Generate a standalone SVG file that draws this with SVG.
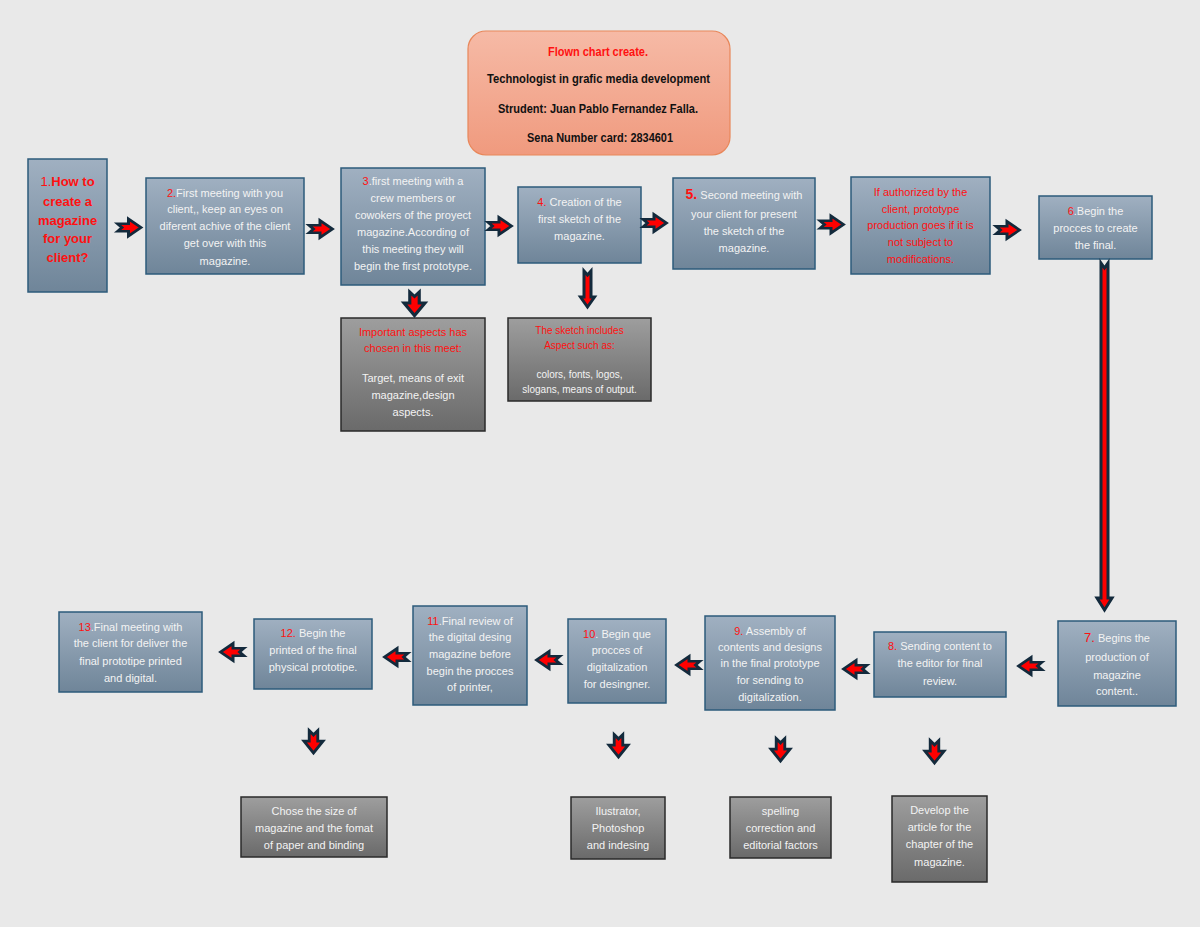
<svg xmlns="http://www.w3.org/2000/svg" xmlns:xlink="http://www.w3.org/1999/xlink" width="1200" height="927" viewBox="0 0 1200 927">
<defs>
<linearGradient id="gBlue" x1="0" y1="0" x2="0" y2="1"><stop offset="0" stop-color="#a0b0c1"/><stop offset="1" stop-color="#6f8599"/></linearGradient>
<linearGradient id="gGray" x1="0" y1="0" x2="0" y2="1"><stop offset="0" stop-color="#9e9e9e"/><stop offset="1" stop-color="#6a6a6a"/></linearGradient>
<linearGradient id="gSal" x1="0" y1="0" x2="0" y2="1"><stop offset="0" stop-color="#f6baa6"/><stop offset="1" stop-color="#f09a7e"/></linearGradient>
<polygon id="ad" points="-4.5,-12 0,-7.5 4.5,-12 4.5,-1 10,-1 0,11.5 -10,-1 -4.5,-1"/>
<style>
.bn{fill:url(#gBlue);stroke:#2d5b7b;stroke-width:1.5}
.gn{fill:url(#gGray);stroke:#2a2a2a;stroke-width:1.5}
.t{font-family:"Liberation Sans",Arial,sans-serif;font-size:11px;fill:#f3f3f3;text-anchor:middle}
.s{font-size:10px}
.r{fill:#ff1111}
.b1{font-family:"Liberation Sans",Arial,sans-serif;font-size:13px;font-weight:bold;fill:#ff1111;text-anchor:middle}
.tt{font-family:"Liberation Sans",Arial,sans-serif;font-size:12px;font-weight:bold;fill:#111;text-anchor:middle}
.arr{fill:#ff0000;stroke:#132a3c;stroke-width:3;stroke-linejoin:miter}
</style>
</defs>
<rect width="1200" height="927" fill="#e9e9e9"/>

<g id="title">
<rect x="468" y="31" width="262" height="124" rx="18" fill="url(#gSal)" stroke="#e8875a" stroke-width="1.2"/>
<text class="tt" x="598" y="56" style="fill:#ff1111" textLength="100" lengthAdjust="spacingAndGlyphs">Flown chart create.</text>
<text class="tt" x="598.5" y="83" textLength="223" lengthAdjust="spacingAndGlyphs">Technologist in grafic media development</text>
<text class="tt" x="598" y="113" textLength="200" lengthAdjust="spacingAndGlyphs">Strudent: Juan Pablo Fernandez Falla.</text>
<text class="tt" x="600" y="142" textLength="146" lengthAdjust="spacingAndGlyphs">Sena Number card: 2834601</text>
</g>

<g id="n1">
<rect class="bn" x="28" y="159" width="79" height="133"/>
<text class="b1" x="67.5" y="186"><tspan font-weight="normal">1.</tspan>How to</text>
<text class="b1" x="67.5" y="206">create a</text>
<text class="b1" x="67.5" y="225">magazine</text>
<text class="b1" x="67.5" y="243">for your</text>
<text class="b1" x="67.5" y="262">client?</text>
</g>

<g id="n2">
<rect class="bn" x="146" y="178" width="158" height="96"/>
<text class="t" x="225" y="197"><tspan class="r">2.</tspan>First meeting with you</text>
<text class="t" x="225" y="213">client,, keep an eyes on</text>
<text class="t" x="225" y="230">diferent achive of the client</text>
<text class="t" x="225" y="247">get over with this</text>
<text class="t" x="225" y="265">magazine.</text>
</g>

<g id="n3">
<rect class="bn" x="341" y="168" width="144" height="117"/>
<text class="t" x="413" y="185"><tspan class="r">3</tspan>.first meeting with a</text>
<text class="t" x="413" y="202">crew members or</text>
<text class="t" x="413" y="219">cowokers of the proyect</text>
<text class="t" x="413" y="236">magazine.According of</text>
<text class="t" x="413" y="253">this meeting they will</text>
<text class="t" x="413" y="270">begin the first prototype.</text>
</g>

<g id="n4">
<rect class="bn" x="518" y="187" width="123" height="76"/>
<text class="t" x="579.5" y="206"><tspan class="r">4.</tspan> Creation of the</text>
<text class="t" x="579.5" y="223">first sketch of the</text>
<text class="t" x="579.5" y="240">magazine.</text>
</g>

<g id="n5">
<rect class="bn" x="673" y="178" width="142" height="91"/>
<text class="t" x="744" y="199"><tspan class="r" font-size="14" font-weight="bold">5.</tspan> Second meeting with</text>
<text class="t" x="744" y="218">your client for present</text>
<text class="t" x="744" y="235">the sketch of the</text>
<text class="t" x="744" y="252">magazine.</text>
</g>

<g id="nAuth">
<rect class="bn" x="851" y="177" width="139" height="97"/>
<text class="t r" x="920.5" y="196">If authorized by the</text>
<text class="t r" x="920.5" y="213">client, prototype</text>
<text class="t r" x="920.5" y="229">production goes if it is</text>
<text class="t r" x="920.5" y="246">not subject to</text>
<text class="t r" x="920.5" y="263">modifications.</text>
</g>

<g id="n6">
<rect class="bn" x="1039" y="196" width="113" height="63"/>
<text class="t" x="1095.5" y="215"><tspan class="r">6</tspan>.Begin the</text>
<text class="t" x="1095.5" y="232">procces to create</text>
<text class="t" x="1095.5" y="249">the final.</text>
</g>

<g id="g3">
<rect class="gn" x="341" y="318" width="144" height="113"/>
<text class="t r" x="413" y="336">Important aspects has</text>
<text class="t r" x="413" y="352">chosen in this meet:</text>
<text class="t" x="413" y="382">Target, means of exit</text>
<text class="t" x="413" y="399">magazine,design</text>
<text class="t" x="413" y="416">aspects.</text>
</g>

<g id="g4">
<rect class="gn" x="508" y="318" width="143" height="83"/>
<text class="t s r" x="579.5" y="334">The sketch includes</text>
<text class="t s r" x="579.5" y="349">Aspect such as:</text>
<text class="t s" x="579.5" y="378">colors, fonts, logos,</text>
<text class="t s" x="579.5" y="393">slogans, means of output.</text>
</g>

<g id="n7">
<rect class="bn" x="1058" y="621" width="118" height="85"/>
<text class="t" x="1117" y="642"><tspan class="r" font-size="13">7.</tspan> Begins the</text>
<text class="t" x="1117" y="661">production of</text>
<text class="t" x="1117" y="679">magazine</text>
<text class="t" x="1117" y="695">content..</text>
</g>

<g id="n8">
<rect class="bn" x="874" y="632" width="132" height="65"/>
<text class="t" x="940" y="650"><tspan class="r">8.</tspan> Sending content to</text>
<text class="t" x="940" y="667">the editor for final</text>
<text class="t" x="940" y="685">review.</text>
</g>

<g id="n9">
<rect class="bn" x="705" y="616" width="130" height="94"/>
<text class="t" x="770" y="635"><tspan class="r">9.</tspan> Assembly of</text>
<text class="t" x="770" y="651">contents and designs</text>
<text class="t" x="770" y="667">in the final prototype</text>
<text class="t" x="770" y="684">for sending to</text>
<text class="t" x="770" y="701">digitalization.</text>
</g>

<g id="n10">
<rect class="bn" x="568" y="619" width="98" height="84"/>
<text class="t" x="617" y="638"><tspan class="r">10</tspan>. Begin que</text>
<text class="t" x="617" y="654">procces of</text>
<text class="t" x="617" y="671">digitalization</text>
<text class="t" x="617" y="688">for desingner.</text>
</g>

<g id="n11">
<rect class="bn" x="413" y="606" width="114" height="99"/>
<text class="t" x="470" y="625"><tspan class="r">11</tspan>.Final review of</text>
<text class="t" x="470" y="641">the digital desing</text>
<text class="t" x="470" y="658">magazine before</text>
<text class="t" x="470" y="675">begin the procces</text>
<text class="t" x="470" y="691">of printer,</text>
</g>

<g id="n12">
<rect class="bn" x="254" y="619" width="118" height="70"/>
<text class="t" x="313" y="637"><tspan class="r">12.</tspan> Begin the</text>
<text class="t" x="313" y="654">printed of the final</text>
<text class="t" x="313" y="671">physical prototipe.</text>
</g>

<g id="n13">
<rect class="bn" x="59" y="612" width="143" height="80"/>
<text class="t" x="130.5" y="631"><tspan class="r">13</tspan>.Final meeting with</text>
<text class="t" x="130.5" y="647">the client for deliver the</text>
<text class="t" x="130.5" y="665">final prototipe printed</text>
<text class="t" x="130.5" y="682">and digital.</text>
</g>

<g id="gA">
<rect class="gn" x="241" y="797" width="146" height="60"/>
<text class="t" x="314" y="815">Chose the size of</text>
<text class="t" x="314" y="832">magazine and the fomat</text>
<text class="t" x="314" y="849">of paper and binding</text>
</g>

<g id="gB">
<rect class="gn" x="571" y="797" width="94" height="62"/>
<text class="t" x="618" y="815">Ilustrator,</text>
<text class="t" x="618" y="832">Photoshop</text>
<text class="t" x="618" y="849">and indesing</text>
</g>

<g id="gC">
<rect class="gn" x="730" y="797" width="101" height="61"/>
<text class="t" x="780.5" y="815">spelling</text>
<text class="t" x="780.5" y="832">correction and</text>
<text class="t" x="780.5" y="849">editorial factors</text>
</g>

<g id="gD">
<rect class="gn" x="892" y="796" width="95" height="86"/>
<text class="t" x="939.5" y="814">Develop the</text>
<text class="t" x="939.5" y="831">article for the</text>
<text class="t" x="939.5" y="848">chapter of the</text>
<text class="t" x="939.5" y="866">magazine.</text>
</g>

<g id="connectors">
<use xlink:href="#ad" class="arr" transform="translate(129.5,227.5) rotate(-90) scale(0.85,1)"/>
<use xlink:href="#ad" class="arr" transform="translate(321,229) rotate(-90) scale(0.85,1)"/>
<use xlink:href="#ad" class="arr" transform="translate(500,226) rotate(-90) scale(0.85,1)"/>
<use xlink:href="#ad" class="arr" transform="translate(655,223) rotate(-90) scale(0.85,1)"/>
<use xlink:href="#ad" class="arr" transform="translate(832,224.5) rotate(-90) scale(0.85,1)"/>
<use xlink:href="#ad" class="arr" transform="translate(1008,230) rotate(-90) scale(0.85,1)"/>

<use xlink:href="#ad" class="arr" transform="translate(1030,666) rotate(90) scale(0.85,1)"/>
<use xlink:href="#ad" class="arr" transform="translate(855,669) rotate(90) scale(0.85,1)"/>
<use xlink:href="#ad" class="arr" transform="translate(688,665) rotate(90) scale(0.85,1)"/>
<use xlink:href="#ad" class="arr" transform="translate(548,660) rotate(90) scale(0.85,1)"/>
<use xlink:href="#ad" class="arr" transform="translate(396,657) rotate(90) scale(0.85,1)"/>
<use xlink:href="#ad" class="arr" transform="translate(232,652) rotate(90) scale(0.85,1)"/>

<use xlink:href="#ad" class="arr" transform="translate(414.5,304) scale(1.05,1)"/>
<polygon class="arr" points="584,271 587.5,275 591,271 591,297 594.5,297 587.5,307 580.5,297 584,297"/>
<polygon class="arr" points="1101,263 1104.5,268 1108,263 1108,598 1112,598 1104.5,610 1097,598 1101,598"/>

<use xlink:href="#ad" class="arr" transform="translate(313.5,742) scale(0.95,0.95)"/>
<use xlink:href="#ad" class="arr" transform="translate(618.5,746) scale(0.95,0.95)"/>
<use xlink:href="#ad" class="arr" transform="translate(780.5,750) scale(0.95,0.95)"/>
<use xlink:href="#ad" class="arr" transform="translate(934.5,752) scale(0.95,0.95)"/>
</g>
</svg>
